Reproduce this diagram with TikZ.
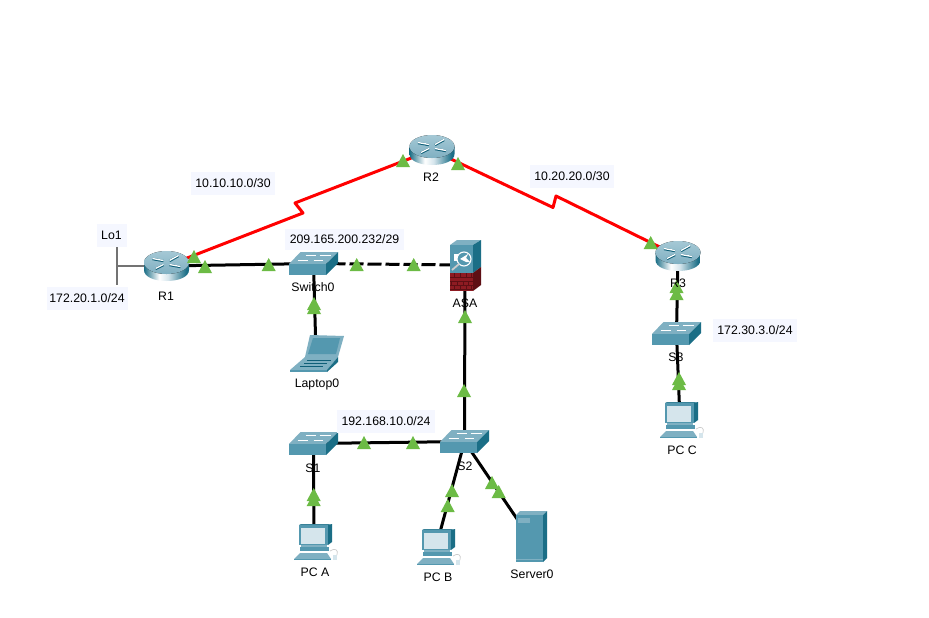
\documentclass[tikz,border=0pt]{standalone}
\usepackage{fontspec}
\setmainfont{Liberation Sans}
\definecolor{pttop}{HTML}{7FB0C2}
\definecolor{pttoplt}{HTML}{A5C8D5}
\definecolor{ptfront}{HTML}{5498AF}
\definecolor{ptside}{HTML}{1B6E86}
\definecolor{ptlight}{HTML}{D5E5EC}
\definecolor{ptdark}{HTML}{0F5F78}
\definecolor{labelbg}{HTML}{F5F7FF}
\definecolor{linkgreen}{HTML}{6CBB45}
\definecolor{brick}{HTML}{8E1B22}
\definecolor{brickdark}{HTML}{5E0F14}
\pgfdeclarehorizontalshading{routerbody}{100bp}{color(0bp)=(ptside); color(25bp)=(ptside); color(42bp)=(white); color(52bp)=(ptlight); color(72bp)=(ptside); color(100bp)=(ptside)}
\tikzset{
  devnode/.style={inner sep=0pt,minimum size=0pt,outer sep=0pt},
  wire/.style={line width=3pt,black},
  serial/.style={line width=3pt,red,line join=round},
  dashwire/.style={line width=3pt,black,dash pattern=on 14pt off 4pt},
  loopwire/.style={line width=1.3pt,black!55},
  devlabel/.style={inner sep=0pt,font=\fontsize{12.3}{14}\selectfont},
  netlabel/.style={fill=labelbg,inner sep=0pt,font=\fontsize{12.3}{14}\selectfont,minimum height=23pt},
  uptri/.pic={\fill[linkgreen] (0,0) -- (7,13) -- (-7,13) -- cycle;},
  router/.pic={
    \path[shading=routerbody] (-22.5,-3) -- (-22.5,4) .. controls (-22.5,11) and (-12,15) .. (0,15) .. controls (12,15) and (22.5,11) .. (22.5,4) -- (22.5,-3) -- cycle;
    \fill[top color=pttoplt,bottom color=pttop] (0,-3.5) ellipse [x radius=22.5,y radius=11.5];
    \foreach \a/\b/\c/\d in {-3/-5/-14/-7, 3/-5/12/-10, -3/-1/-11/3, 3/-1/14/1}{
      \draw[ptdark,line width=2.4pt] (\a,\b) -- (\c,\d);
      \draw[white,line width=1.3pt] (\a,\b-0.5) -- (\c,\d-0.5);
    }
  },
  switchbox/.pic={
    \fill[pttop] (-24.5,0.5) -- (-13,-11.5) -- (24.5,-11.5) -- (12.5,0.5) -- cycle;
    \fill[ptfront] (-24.5,0.5) rectangle (12.5,11.5);
    \fill[ptside] (12.5,0.5) -- (24.5,-11.5) -- (24.5,-0.5) -- (12.5,11.5) -- cycle;
    \foreach \a/\b/\c/\d in {-8/-8/2/-8, 6/-8/17/-8, -16/-3/-6/-3, 0/-3/9/-3}{
      \draw[white,line width=0.9pt] (\a,\b) -- (\c,\d);
    }
  },
  firewall/.pic={
    \fill[pttop] (-15,-20) -- (-8,-25) -- (16,-25) -- (8,-20) -- cycle;
    \fill[ptfront] (-15,-20) rectangle (8,8);
    \fill[ptside] (8,-20) -- (16,-25) -- (16,2) -- (8,8) -- cycle;
    \fill[brick] (-15,8) rectangle (8,26);
    \fill[brickdark] (8,8) -- (16,2) -- (16,20) -- (8,26) -- cycle;
    \foreach \y in {12,16,20,24}{\draw[brickdark,line width=0.7pt] (-15,\y) -- (8,\y);}
    \foreach \x in {-11,-5,1,6}{\draw[brickdark,line width=0.7pt] (\x,8) -- (\x,12) (\x-3,16) -- (\x-3,20) (\x,20) -- (\x,24);}
    \fill[white] (-11,-11) rectangle (-6,-4);
    \fill[ptfront] (-1,-6) circle [radius=7];
    \draw[white,line width=1.1pt] (-1,-6) circle [radius=7];
    \draw[white!80!black,line width=1.8pt] (-6,-1) -- (-13,5);
    \fill[white] (-5,-6) -- (3,-11) -- (1,-7) -- (5,-3) -- (1,-3) -- cycle;
  },
  laptopicon/.pic={
    \fill[pttop] (-6,-19) -- (28,-18) -- (22,3) -- (-11,3) -- cycle;
    \fill[ptfront] (-3,-16) -- (24,-16) -- (20,0) -- (-8,0) -- cycle;
    \fill[pttop] (-11,3) -- (22,3) -- (11,16) -- (-26,16) -- cycle;
    \fill[ptfront] (-26,16) rectangle (11,18);
    \fill[ptside] (22,3) -- (22,8) -- (11,18) -- (11,16) -- cycle;
    \foreach \y/\a/\b in {6/-9/15, 9/-12/11, 12/-16/7}{\draw[ptdark,line width=0.6pt] (\a,\y) -- (\b,\y);}
  },
  pcicon/.pic={
    \fill[ptside] (29,1) -- (33,0) -- (33,18) -- (29,21) -- cycle;
    \fill[ptside!70!pttop] (0,1) -- (2,0) -- (33,0) -- (29,1) -- cycle;
    \fill[ptfront] (0,1) rectangle (29,21);
    \fill[ptlight] (2,4) rectangle (26,20);
    \fill[pttop] (2,21) rectangle (28,23);
    \fill[ptfront] (1,23) rectangle (30,27);
    \fill[pttop] (1,29) -- (28,29) -- (32,35) -- (-5,35) -- cycle;
    \fill[ptfront] (-5,35) rectangle (32,36);
    \fill[ptlight] (34,31) rectangle (38,36);
    \draw[black!20,line width=0.7pt] (31,27) .. controls (35,24) and (40,25) .. (38,31);
  },
  servericon/.pic={
    \fill[pttop] (0,0) -- (4,-4) -- (31,-4) -- (27,0) -- cycle;
    \fill[ptfront] (0,0) rectangle (27,47);
    \fill[ptside] (27,0) -- (31,-4) -- (31,43) -- (27,47) -- cycle;
    \fill[pttop] (2,3) rectangle (14,8);
    \draw[pttop,line width=0.7pt] (0,44) -- (27,44);
  }
}
\begin{document}
\begin{tikzpicture}[x=1pt,y=-1pt]
\useasboundingbox (0,0) rectangle (929,618);
\fill[white] (0,0) rectangle (929,618);
% devices
\node[devnode] (R1) at (166.5,266) {};
\node[devnode] (R2) at (432,150) {};
\node[devnode] (R3) at (678,256) {};
\node[devnode] (Switch0) at (313.5,263.5) {};
\node[devnode] (S1) at (313.5,443.5) {};
\node[devnode] (S2) at (464.5,441.5) {};
\node[devnode] (S3) at (676.5,333.5) {};
\node[devnode] (ASA) at (465,265) {};
\node[devnode] (Laptop0) at (316,354) {};
\node[devnode] (PCA) at (314,541) {};
\node[devnode] (PCB) at (436,547) {};
\node[devnode] (PCC) at (680,420) {};
\node[devnode] (Server0) at (530,538) {};
\coordinate (zigA) at (303,213);
\coordinate (zigB) at (295,203);
\coordinate (zigC) at (553,207.5);
\coordinate (zigD) at (556,196);
\coordinate (loJoin) at (117,266);
\coordinate (loTop) at (117,247);
\coordinate (loBot) at (117,285);
% connectors
\draw[loopwire] (loTop) -- (loBot);
\draw[loopwire] (loJoin) -- (R1);
\draw[serial] (R1) -- (zigA) -- (zigB) -- (R2);
\draw[serial] (R2) -- (zigC) -- (zigD) -- (R3);
\draw[wire] (R1) -- (Switch0);
\draw[dashwire] (Switch0) -- (ASA);
\draw[wire] (Switch0) -- (Laptop0);
\draw[wire] (ASA) -- (S2);
\draw[wire] (S1) -- (S2);
\draw[wire] (S1) -- (PCA);
\draw[wire] (S2) -- (PCB);
\draw[wire] (S2) -- (Server0);
\draw[wire] (R3) -- (S3);
\draw[wire] (S3) -- (PCC);
% icons
\pic at (R1) {router};
\pic at (R2) {router};
\pic at (R3) {router};
\pic at (Switch0) {switchbox};
\pic at (S1) {switchbox};
\pic at (S2) {switchbox};
\pic at (S3) {switchbox};
\pic at (ASA) {firewall};
\pic at (Laptop0) {laptopicon};
\pic at (299,524) {pcicon};
\pic at (422,529) {pcicon};
\pic at (665,402) {pcicon};
\pic at (516,515) {servericon};
% link lights
\foreach \x/\y in {194/250, 205/260, 268.7/258, 314/297, 314/301, 356.7/258, 413.7/258, 465/310, 464/384, 403/154, 458/157, 650.7/236, 676.5/280, 676.5/287, 679/372, 679/377, 313.7/488, 313.7/493, 364/436, 413/436, 452/484, 447.7/499, 492/476, 498.7/485}{
  \pic at (\x,\y) {uptri};
}
% labels
\node[devlabel] (lR1) at (166,296) {R1};
\node[devlabel] (lR2) at (431,177) {R2};
\node[devlabel] (lR3) at (678,283) {R3};
\node[devlabel] (lSw) at (313,287) {Switch0};
\node[devlabel] (lAsa) at (465,303) {ASA};
\node[devlabel] (lLap) at (317,384) {Laptop0};
\node[devlabel] (lS1) at (313,468) {S1};
\node[devlabel] (lS2) at (465,466) {S2};
\node[devlabel] (lS3) at (676,357) {S3};
\node[devlabel] (lPA) at (315,572) {PC A};
\node[devlabel] (lPB) at (438,577) {PC B};
\node[devlabel] (lPC) at (682,450) {PC C};
\node[devlabel] (lSrv) at (532,574) {Server0};
\node[netlabel,minimum width=84pt] (n1) at (233,183) {10.10.10.0/30};
\node[netlabel,minimum width=84pt] (n2) at (572,176) {10.20.20.0/30};
\node[netlabel,minimum width=30pt] (n3) at (111.5,235) {Lo1};
\node[netlabel,minimum width=81pt] (n4) at (87,298) {172.20.1.0/24};
\node[netlabel,minimum width=119pt,minimum height=21pt] (n5) at (344.5,239.5) {209.165.200.232/29};
\node[netlabel,minimum width=84pt] (n6) at (755,330) {172.30.3.0/24};
\node[netlabel,minimum width=98pt] (n7) at (386,421.5) {192.168.10.0/24};
\end{tikzpicture}
\end{document}
